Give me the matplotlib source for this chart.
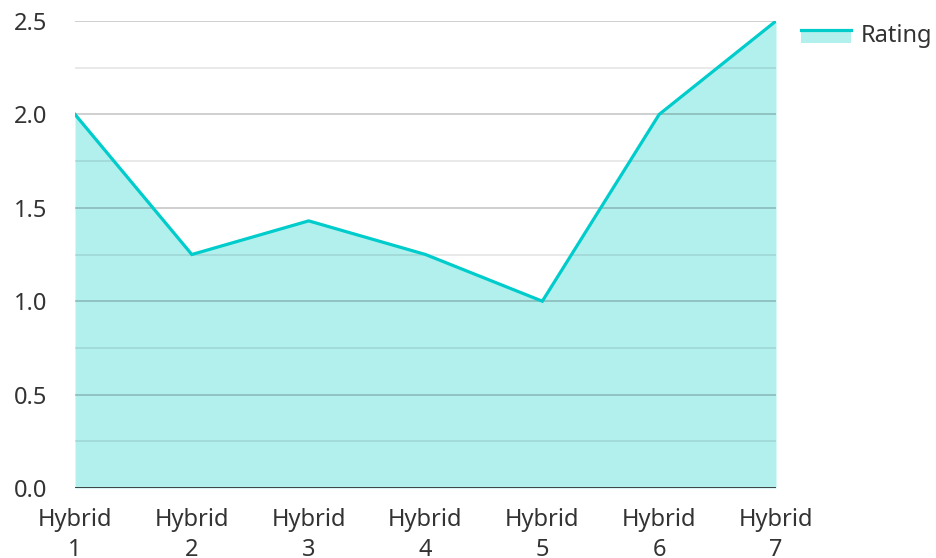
import matplotlib
matplotlib.use("Agg")
import matplotlib.pyplot as plt
from matplotlib.legend_handler import HandlerBase
from matplotlib.patches import Rectangle
from matplotlib.lines import Line2D

categories = ["Hybrid\n1", "Hybrid\n2", "Hybrid\n3", "Hybrid\n4", "Hybrid\n5", "Hybrid\n6", "Hybrid\n7"]
ratings = [2.0, 1.25, 1.43, 1.25, 1.0, 2.0, 2.5]
yticks = [0.0, 0.5, 1.0, 1.5, 2.0, 2.5]
minor_ticks = [0.25, 0.75, 1.25, 1.75, 2.25]

LINE = "#00cccc"
FILL = "#b2f0ee"
TEXT = "#333333"
FS = 17

plt.rcParams['font.family'] = ['Noto Sans', 'DejaVu Sans']

fig = plt.figure(figsize=(9.36, 5.58), dpi=100)
ax = fig.add_axes([75/936, 1-488/558, (776-75)/936, (488-21)/558])

x = list(range(len(categories)))
ax.fill_between(x, ratings, 0, color=FILL, linewidth=0, zorder=1)
ax.plot(x, ratings, color=LINE, linewidth=2.3, zorder=4, solid_joinstyle='miter')

ax.set_xlim(0, len(categories)-1)
ax.set_ylim(0, 2.5)
ax.set_yticks(yticks)
ax.set_yticklabels([f"{v:.1f}" for v in yticks])
ax.set_yticks(minor_ticks, minor=True)
ax.set_xticks(x)
ax.set_xticklabels(categories)

for v in yticks[1:]:
    ax.axhline(v, color="#000000", alpha=0.22, linewidth=1.2, zorder=2)
for v in minor_ticks:
    ax.axhline(v, color="#000000", alpha=0.1, linewidth=1.2, zorder=2)
ax.axhline(0, color="#333333", linewidth=2, zorder=5)

for s in ax.spines.values():
    s.set_visible(False)
ax.tick_params(axis='both', which='both', length=0, labelsize=FS, colors=TEXT)
ax.tick_params(axis='y', pad=44)
ax.tick_params(axis='x', pad=14.5)
for lab in ax.get_yticklabels():
    lab.set_horizontalalignment('left')
for lab in ax.get_xticklabels():
    lab.set_linespacing(1.33)

class AreaHandler(HandlerBase):
    def create_artists(self, legend, orig_handle, xdescent, ydescent, width, height, fontsize, trans):
        r = Rectangle((-xdescent, -ydescent - 0.05*height), width, height*0.85,
                      facecolor=FILL, edgecolor='none', transform=trans)
        ytop = -ydescent + 0.7*height
        l = Line2D([-xdescent, -xdescent + width], [ytop, ytop], color=LINE, linewidth=2.3, transform=trans)
        return [r, l]

handle = Rectangle((0, 0), 1, 1)
leg = fig.legend([handle], ["Rating"], handler_map={Rectangle: AreaHandler()},
                 loc='upper left', bbox_to_anchor=(801/936, 1-24/558), frameon=False,
                 fontsize=FS, handlelength=50/(FS*100/72), handletextpad=0.4, borderaxespad=0,
                 borderpad=0)
for t in leg.get_texts():
    t.set_color(TEXT)

fig.savefig("out.png", dpi=100)
